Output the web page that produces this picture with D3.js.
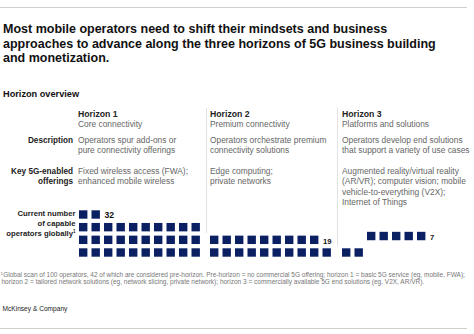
<!DOCTYPE html>
<html>
<head>
<meta charset="utf-8">
<script src="https://cdn.jsdelivr.net/npm/d3@7"></script>
<style>
  html, body { margin: 0; padding: 0; background: #fff; }
  svg { display: block; font-family: "Liberation Sans", Arial, sans-serif; }
</style>
</head>
<body>
<svg id="chart" width="474" height="334"></svg>
<script>
// ---------- data ----------
const titleLines = [
  "Most mobile operators need to shift their mindsets and business",
  "approaches to advance along the three horizons of 5G business building",
  "and monetization."
];
const sectionTitle = "Horizon overview";
const horizons = ["Horizon 1", "Horizon 2", "Horizon 3"];
const subtitles = ["Core connectivity", "Premium connectivity", "Platforms and solutions"];
const descriptions = [
  ["Operators spur add-ons or", "pure connectivity offerings"],
  ["Operators orchestrate premium", "connectivity solutions"],
  ["Operators develop end solutions", "that support a variety of use cases"]
];
const offerings = [
  ["Fixed wireless access (FWA);", "enhanced mobile wireless"],
  ["Edge computing;", "private networks"],
  ["Augmented reality/virtual reality", "(AR/VR); computer vision; mobile", "vehicle-to-everything (V2X);", "Internet of Things"]
];
const rowLabels = [
  ["Description"],
  ["Key 5G-enabled", "offerings"],
  ["Current number", "of capable", "operators globally"]
];
const operatorCounts = [32, 19, 7];
const footnoteLines = [
  "Global scan of 100 operators, 42 of which are considered pre-horizon. Pre-horizon = no commercial 5G offering; horizon 1 = basic 5G service (eg, mobile, FWA);",
  "horizon 2 = tailored network solutions (eg, network slicing, private network); horizon 3 = commercially available 5G end solutions (eg, V2X, AR/VR)."
];
const source = "McKinsey & Company";

// squares per waffle row (bottom row first)
const rowCounts = [[10, 10, 10, 2], [10, 9], [2, 5]];

// ---------- layout ----------
const rowStartCol = [[0, 0, 0, 0], [0, 0], [0, 2]];
const rowLevel = [[0, 1, 2, 3], [0, 1], [0, 1.3]];
const colX = [78, 210, 342];
const navy = "#0b1f63";

const svg = d3.select("#chart");

// rules
svg.append("line").attr("x1", 0).attr("x2", 467).attr("y1", 7.5).attr("y2", 7.5)
  .attr("stroke", "#cfcfcf").attr("stroke-width", 1);
svg.append("line").attr("x1", 0).attr("x2", 467).attr("y1", 328.5).attr("y2", 328.5)
  .attr("stroke", "#cfcfcf").attr("stroke-width", 1);

// title
svg.append("g").selectAll("text").data(titleLines).join("text")
  .attr("x", 3).attr("y", (d, i) => 33 + i * 14.6)
  .attr("font-size", 12.5).attr("font-weight", "bold").attr("fill", "#111")
  .text(d => d);

svg.append("text").attr("x", 3).attr("y", 96.5)
  .attr("font-size", 9.2).attr("font-weight", "bold").attr("fill", "#111")
  .text(sectionTitle);

// separators
svg.append("line").attr("x1", 206.5).attr("x2", 206.5).attr("y1", 108).attr("y2", 233)
  .attr("stroke", "#e2e2e2").attr("stroke-width", 1);
svg.append("line").attr("x1", 337.5).attr("x2", 337.5).attr("y1", 108).attr("y2", 246)
  .attr("stroke", "#e2e2e2").attr("stroke-width", 1);

const bodySize = 8.4, lh = 10.4;
const bodyFill = "#666";

// row labels (right aligned)
const rowLabelY = [143, 174, 215.5];
rowLabels.forEach((lines, r) => {
  svg.append("g").selectAll("text").data(lines).join("text")
    .attr("x", r === 2 ? 75.5 : 73).attr("y", (d, i) => rowLabelY[r] + i * lh)
    .attr("text-anchor", "end").attr("font-size", r === 2 ? 7.7 : 8.2).attr("font-weight", "bold")
    .attr("fill", "#222")
    .each(function (d, i) {
      const t = d3.select(this);
      t.text(d);
      if (r === 2 && i === lines.length - 1) {
        t.append("tspan").attr("font-size", 4.5).attr("dy", -3.5).text("1");
      }
    });
});

// columns
horizons.forEach((h, c) => {
  const g = svg.append("g").attr("transform", `translate(${colX[c]},0)`);
  g.append("text").attr("x", 0).attr("y", 116.5).attr("font-size", bodySize + 0.3)
    .attr("font-weight", "bold").attr("fill", "#222").text(h);
  g.append("text").attr("x", 0).attr("y", 127).attr("font-size", bodySize)
    .attr("fill", bodyFill).text(subtitles[c]);
  g.append("g").selectAll("text").data(descriptions[c]).join("text")
    .attr("x", 0).attr("y", (d, i) => 143 + i * lh).attr("font-size", bodySize)
    .attr("fill", bodyFill).text(d => d);
  g.append("g").selectAll("text").data(offerings[c]).join("text")
    .attr("x", 0).attr("y", (d, i) => 174 + i * lh).attr("font-size", bodySize)
    .attr("fill", bodyFill).text(d => d);
});

// waffle
const sq = 8.4;
const xCol = d3.scaleLinear().domain([0, 10]).range([0, 125]);
const yRow = d3.scaleLinear().domain([0, 3]).range([248.3, 210.3]);
const waffleX0 = [79, 210, 342];

horizons.forEach((h, c) => {
  const cells = [];
  rowCounts[c].forEach((n, r) => {
    for (let k = 0; k < n; k++) {
      cells.push({ col: rowStartCol[c][r] + k, lvl: rowLevel[c][r] });
    }
  });
  const g = svg.append("g").attr("transform", `translate(${waffleX0[c]},0)`);
  g.selectAll("rect").data(cells).join("rect")
    .attr("x", d => xCol(d.col)).attr("y", d => yRow(d.lvl))
    .attr("width", sq).attr("height", sq).attr("fill", navy);
  const top = rowCounts[c].length - 1;
  const lastCol = rowStartCol[c][top] + rowCounts[c][top];
  g.append("text")
    .attr("x", xCol(lastCol) + 0.5)
    .attr("y", yRow(rowLevel[c][top]) + sq - 0.5)
    .attr("font-size", c === 0 ? 8.6 : 7.6).attr("font-weight", "bold").attr("fill", "#111")
    .text(operatorCounts[c]);
});

// footnote
const fn = svg.append("g");
fn.selectAll("text").data(footnoteLines).join("text")
  .attr("x", (d, i) => i === 0 ? 3.2 : 1.5).attr("y", (d, i) => 277 + i * 7.4)
  .attr("font-size", 6.5).attr("fill", "#777")
  .text(d => d);
fn.append("text").attr("x", 0.5).attr("y", 274.8).attr("font-size", 4.2).attr("fill", "#777").text("1");

svg.append("text").attr("x", 2.5).attr("y", 311).attr("font-size", 6.6)
  .attr("fill", "#222").text(source);
</script>
</body>
</html>
